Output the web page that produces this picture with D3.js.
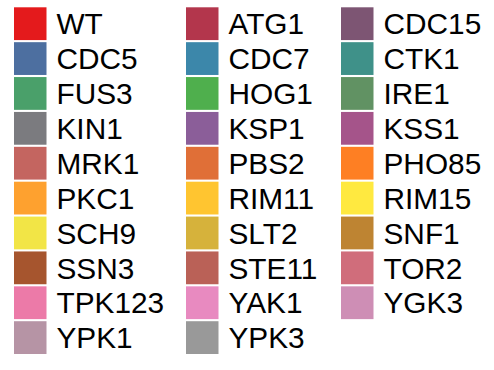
<!DOCTYPE html>
<html>
<head>
<meta charset="utf-8">
<script src="https://cdn.jsdelivr.net/npm/d3@7"></script>
<style>
  body { margin: 0; background: #fff; }
  text { font-family: "Liberation Sans", Arial, sans-serif; }
</style>
</head>
<body>
<script>
// legend entries, one array per column
var col1 = ["WT", "CDC5", "FUS3", "KIN1", "MRK1", "PKC1", "SCH9", "SSN3", "TPK123", "YPK1"];
var col2 = ["ATG1", "CDC7", "HOG1", "KSP1", "PBS2", "RIM11", "SLT2", "STE11", "YAK1", "YPK3"];
var col3 = ["CDC15", "CTK1", "IRE1", "KSS1", "PHO85", "RIM15", "SNF1", "TOR2", "YGK3"];

var colors1 = ["#E41A1C", "#4D6FA0", "#4AA06A", "#7B7B7F", "#C46560", "#FEA12F", "#F2E546", "#A6552E", "#EC7AA8", "#B694A5"];
var colors2 = ["#B3364C", "#3C87AA", "#4FAF4D", "#8B5E99", "#E06F37", "#FFC530", "#D6B23B", "#BA6157", "#E88AC0", "#999999"];
var colors3 = ["#7D5573", "#3F9189", "#619263", "#A5548A", "#FE7F23", "#FFE940", "#BE8432", "#D06D7B", "#CE8EB5"];

var width = 494, height = 370;

var svg = d3.select("body")
            .append("svg")
            .attr("width", width)
            .attr("height", height)

var columns = [
  {names: col1, colors: colors1},
  {names: col2, colors: colors2},
  {names: col3, colors: colors3}
];

// column left edges and row positions
var xCol = d3.scaleOrdinal().domain([0, 1, 2]).range([14, 186, 341]);
var yRow = d3.scaleBand().domain(d3.range(10)).range([7.3, 7.3 + 34.67 * 10]).paddingInner(0.06).paddingOuter(0);

var key = 32.5;

var groups = svg.selectAll("g.col")
            .data(columns)
            .enter()
            .append("g")
            .attr("class", "col")
            .attr("transform", function (d, i){ return "translate(" + xCol(i) + ",0)" })

var items = groups.selectAll("g.item")
            .data(function (d){ return d.names.map(function (n, i){ return {name: n, color: d.colors[i], row: i} }) })
            .enter()
            .append("g")
            .attr("class", "item")
            .attr("transform", function (d){ return "translate(0," + yRow(d.row) + ")" })

items.append("rect")
            .attr("width", key)
            .attr("height", yRow.bandwidth())
            .attr("fill", function (d){ return d.color })

items.append("text")
            .attr("x", key + 10)
            .attr("y", yRow.bandwidth() / 2 + 10.7)
            .attr("font-size", 29.8)
            .attr("fill", "#000")
            .text(function (d){ return d.name })
</script>
</body>
</html>
